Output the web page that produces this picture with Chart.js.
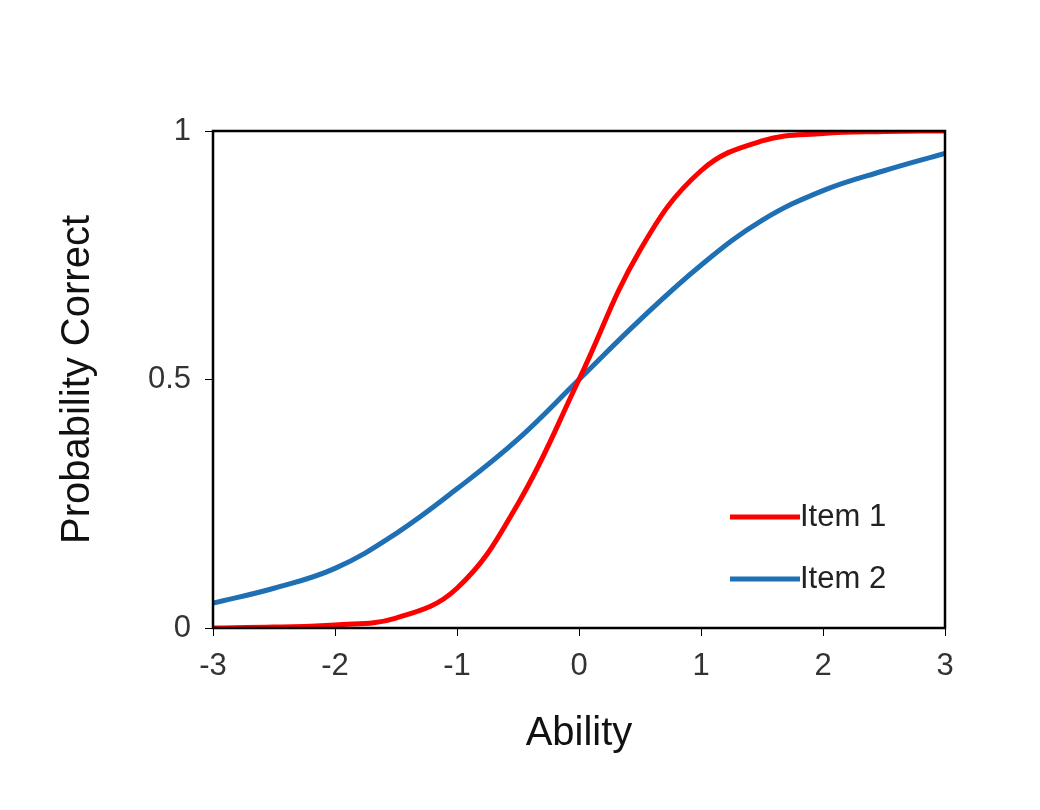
<!DOCTYPE html>
<html>
<head>
<meta charset="utf-8">
<script src="https://cdn.jsdelivr.net/npm/chart.js@4/dist/chart.umd.min.js"></script>
<style>
  body { margin: 0; background: #fff; }
  #wrap { width: 1040px; height: 810px; }
</style>
</head>
<body>
<div id="wrap"><canvas id="c" width="1040" height="810"></canvas></div>
<script>
// valores
const ability = [-3, -2.5, -2, -1.5, -1, -0.5, 0, 0.5, 1, 1.5, 2, 2.5, 3];
const item1 = [0, 0.002, 0.006, 0.02, 0.08, 0.25, 0.5, 0.76, 0.92, 0.98, 0.995, 0.999, 1];
const item2 = [0.05, 0.08, 0.12, 0.19, 0.28, 0.38, 0.5, 0.62, 0.73, 0.82, 0.88, 0.92, 0.955];
const seriesNames = ['Item 1', 'Item 2'];
const seriesColors = ['#ff0000', '#1f6fb4'];

const toPts = (ys) => ability.map((x, i) => ({ x: x, y: ys[i] }));

// marco y leyenda dentro del area
const framePlugin = {
  id: 'frame',
  afterDraw(chart) {
    const { ctx, chartArea: a } = chart;
    ctx.save();
    ctx.strokeStyle = '#000';
    ctx.lineWidth = 2.5;
    ctx.strokeRect(a.left, a.top, a.right - a.left, a.bottom - a.top);
    ctx.font = '31px "Liberation Sans", Arial, sans-serif';
    ctx.fillStyle = '#222';
    ctx.textBaseline = 'middle';
    seriesNames.forEach((name, i) => {
      const y = 517 + i * 62;
      ctx.strokeStyle = seriesColors[i];
      ctx.lineWidth = 5;
      ctx.beginPath();
      ctx.moveTo(730, y);
      ctx.lineTo(800, y);
      ctx.stroke();
      ctx.fillText(name, 800, y);
    });
    ctx.restore();
  }
};

const font = '"Liberation Sans", Arial';

new Chart(document.getElementById('c'), {
  type: 'line',
  data: {
    datasets: [
      { label: seriesNames[0], data: toPts(item1), borderColor: seriesColors[0], borderWidth: 5, pointRadius: 0, tension: 0.4, fill: false },
      { label: seriesNames[1], data: toPts(item2), borderColor: seriesColors[1], borderWidth: 5, pointRadius: 0, tension: 0.4, fill: false }
    ]
  },
  options: {
    responsive: false,
    animation: false,
    layout: { padding: { left: 50, right: 95, top: 131, bottom: 48 } },
    plugins: { legend: { display: false }, tooltip: { enabled: false } },
    scales: {
      x: {
        type: 'linear', min: -3, max: 3,
        afterFit: (s) => { s.height = 134; },
        ticks: { stepSize: 1, color: '#333', font: { size: 31, family: font }, padding: 12 },
        grid: { drawOnChartArea: false, tickLength: 8, color: '#000' },
        border: { display: false },
        title: { display: true, text: 'Ability', color: '#111', font: { size: 40, family: font }, padding: { top: 6 } }
      },
      y: {
        min: 0, max: 1,
        afterFit: (s) => { s.width = 163; },
        ticks: { stepSize: 0.5, color: '#333', font: { size: 31, family: font }, padding: 14,
                 callback: (v) => String(v) },
        grid: { drawOnChartArea: false, tickLength: 8, color: '#000' },
        border: { display: false },
        title: { display: true, text: 'Probability Correct', color: '#111', font: { size: 40, family: font }, padding: { bottom: 0 } }
      }
    }
  },
  plugins: [framePlugin]
});
</script>
</body>
</html>
